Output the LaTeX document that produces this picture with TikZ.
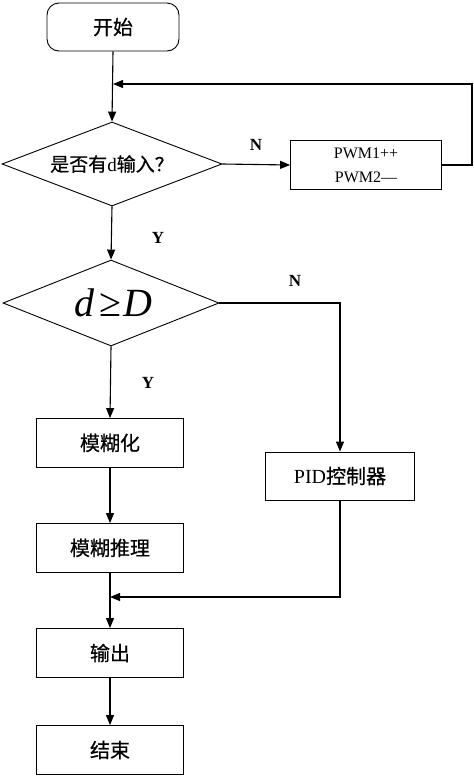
\documentclass[tikz,border=0pt]{standalone}
\usepackage{fontspec}
\setmainfont{Liberation Serif}
\newfontfamily\cjk[FakeBold=0.6]{Noto Sans CJK SC}
\usetikzlibrary{shapes.geometric,arrows.meta}
\begin{document}
\begin{tikzpicture}[x=1pt,y=-1pt,
  every node/.style={inner sep=0pt},
  box/.style={draw,line width=0.9pt,minimum width=147pt,minimum height=49pt,font=\fontsize{20}{22}\selectfont\cjk},
  dec/.style={draw,diamond,aspect=2.6,line width=0.9pt},
  lab/.style={font=\fontsize{17}{19}\selectfont\bfseries},
  arr/.style={line width=1.1pt,-{Triangle[length=10pt,width=8pt]}}]
\useasboundingbox (0,0) rectangle (474,777);
\node[draw,rounded corners=12pt,line width=0.9pt,minimum width=132pt,minimum height=48pt,font=\fontsize{20}{22}\selectfont\cjk] (start) at (113,27) {开始};
\node[dec,minimum width=220pt,minimum height=84pt,font=\fontsize{19}{22}\selectfont] (d1) at (112,164) {{\cjk 是否有}d{\cjk 输入？}};
\node[draw,line width=0.9pt,minimum width=151pt,minimum height=49pt,align=center,font=\fontsize{16}{24}\selectfont] (pwm) at (366,165) {PWM1++\\PWM2—};
\node[dec,minimum width=216pt,minimum height=86pt,font=\fontsize{40}{44}\selectfont] (d2) at (111,303) {\hspace{4pt}\textit{d}\hspace{5pt}≥\hspace{2pt}\textit{D}};
\node[box] (fz) at (110,443) {模糊化};
\node[box,minimum width=149pt,minimum height=48pt] (pid) at (340,476) {{\rmfamily PID}控制器};
\node[box] (inf) at (110,548) {模糊推理};
\node[box] (out) at (110,653) {输出};
\node[box] (end) at (110,750) {结束};
\coordinate (j1) at (113,84);
\coordinate (rr) at (472,84);
\coordinate (j2) at (110,597);
\node[lab] (n1) at (256,145) {N};
\node[lab] (y1) at (158,238) {Y};
\node[lab] (n2) at (295,281) {N};
\node[lab] (y2) at (148,383) {Y};
\draw[arr] (start.south) -- (d1.north);
\draw[arr] (d1.east) -- (pwm.west);
\draw[arr] (pwm.east) -| (rr) -- (j1);
\draw[arr] (d1.south) -- (d2.north);
\draw[arr] (d2.east) -| (pid.north);
\draw[arr] (d2.south) -- (fz.north);
\draw[arr] (fz.south) -- (inf.north);
\draw[arr] (pid.south) |- (j2);
\draw[arr] (inf.south) -- (out.north);
\draw[arr] (out.south) -- (end.north);
\end{tikzpicture}
\end{document}
